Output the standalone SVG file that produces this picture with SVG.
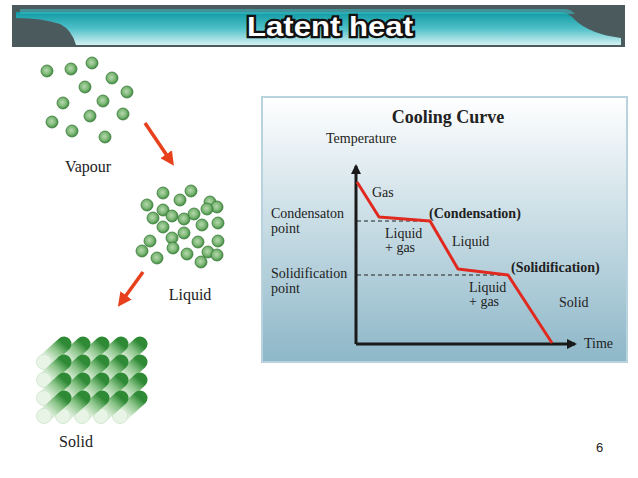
<svg xmlns="http://www.w3.org/2000/svg" width="638" height="478" viewBox="0 0 638 478">
<defs>
<linearGradient id="hdr" x1="0" y1="0" x2="0" y2="1"><stop offset="0" stop-color="#0f9aa3"/><stop offset="0.5" stop-color="#4fc0c8"/><stop offset="1" stop-color="#d4f1f3"/></linearGradient>
<linearGradient id="panel" x1="0" y1="0" x2="0" y2="1"><stop offset="0" stop-color="#ffffff"/><stop offset="1" stop-color="#8db7c8"/></linearGradient>
<radialGradient id="ball" cx="0.45" cy="0.45" r="0.55"><stop offset="0" stop-color="#b5d8ad"/><stop offset="0.6" stop-color="#7fb878"/><stop offset="1" stop-color="#3d8a3e"/></radialGradient>
<linearGradient id="cyl" x1="1" y1="0" x2="0" y2="1"><stop offset="0" stop-color="#2f8a36"/><stop offset="0.35" stop-color="#8cc58a"/><stop offset="0.75" stop-color="#d6ebd4"/><stop offset="1" stop-color="#eaf5e8"/></linearGradient>
<marker id="ra" markerWidth="4" markerHeight="4" refX="2" refY="2" orient="auto" markerUnits="strokeWidth"><path d="M0,0 L4,2 L0,4 z" fill="#e8401c"/></marker>
<marker id="ka" markerWidth="10" markerHeight="10" refX="8" refY="5" orient="auto" markerUnits="userSpaceOnUse"><path d="M0,0 L10,5 L0,10 z" fill="#1a1a1a"/></marker>
</defs>
<style>
.p{fill:url(#ball);stroke:#3d7d3e;stroke-width:0.8}
.t{font-family:"Liberation Serif",serif;fill:#222;font-size:16px}
.c{font-family:"Liberation Serif",serif;fill:#222;font-size:14px}
.b{font-weight:bold}
.cy{stroke:url(#cyl);stroke-width:15;stroke-linecap:round;fill:none}
.cap{fill:#e8f4e6;stroke:#cde4cb;stroke-width:0.8}
</style>
<rect width="638" height="478" fill="#fff"/>
<g id="header">
<rect x="12" y="5" width="613" height="42" fill="#4b5a5d"/>
<path d="M16,12 H560 Q568,12 575,20 Q590,34 621,38 V45 H76 Q72,30 60,24 Q42,18 16,18 Z" fill="url(#hdr)"/>
<path d="M20,9 H566 Q572,10 575,14 L20,14Z" fill="#3cb9c1" opacity="0.6"/>
<text x="330" y="36" text-anchor="middle" font-family="Liberation Sans,Arial,sans-serif" font-weight="bold" font-size="28" textLength="166" lengthAdjust="spacingAndGlyphs" fill="#fff" stroke="#111" stroke-width="4.5" paint-order="stroke">Latent heat</text>
</g>
<g id="vapour">
<circle class="p" cx="47" cy="71" r="6"/><circle class="p" cx="71" cy="69" r="6"/><circle class="p" cx="92" cy="63" r="6"/><circle class="p" cx="112" cy="78" r="6"/><circle class="p" cx="85" cy="87" r="6"/><circle class="p" cx="127" cy="92" r="6"/><circle class="p" cx="63" cy="103" r="6"/><circle class="p" cx="103" cy="101" r="6"/><circle class="p" cx="90" cy="116" r="6"/><circle class="p" cx="123" cy="114" r="6"/><circle class="p" cx="52" cy="122" r="6"/><circle class="p" cx="72" cy="131" r="6"/><circle class="p" cx="105" cy="137" r="6"/>
<text class="t" x="88" y="172" text-anchor="middle">Vapour</text>
</g>
<g id="liquid">
<circle class="p" cx="163" cy="193" r="6"/><circle class="p" cx="191" cy="191" r="6"/><circle class="p" cx="180" cy="200" r="6"/><circle class="p" cx="147" cy="205" r="6"/><circle class="p" cx="210" cy="202" r="6"/><circle class="p" cx="217" cy="207" r="6"/><circle class="p" cx="207" cy="209" r="6"/><circle class="p" cx="163" cy="210" r="6"/><circle class="p" cx="153" cy="218" r="6"/><circle class="p" cx="172" cy="216" r="6"/><circle class="p" cx="184" cy="219" r="6"/><circle class="p" cx="194" cy="214" r="6"/><circle class="p" cx="218" cy="223" r="6"/><circle class="p" cx="202" cy="225" r="6"/><circle class="p" cx="163" cy="227" r="6"/><circle class="p" cx="184" cy="233" r="6"/><circle class="p" cx="150" cy="241" r="6"/><circle class="p" cx="172" cy="238" r="6"/><circle class="p" cx="198" cy="242" r="6"/><circle class="p" cx="218" cy="241" r="6"/><circle class="p" cx="173" cy="248" r="6"/><circle class="p" cx="142" cy="251" r="6"/><circle class="p" cx="157" cy="258" r="6"/><circle class="p" cx="187" cy="254" r="6"/><circle class="p" cx="208" cy="252" r="6"/><circle class="p" cx="217" cy="255" r="6"/><circle class="p" cx="201" cy="262" r="6"/>
<text class="t" x="190" y="300" text-anchor="middle">Liquid</text>
</g>
<g id="solid">
<g id="r0"><path class="cy" d="M120,362 l20,-18"/><circle class="cap" cx="120" cy="362" r="7.5"/><path class="cy" d="M101,362 l20,-18"/><circle class="cap" cx="101" cy="362" r="7.5"/><path class="cy" d="M82,362 l20,-18"/><circle class="cap" cx="82" cy="362" r="7.5"/><path class="cy" d="M63,362 l20,-18"/><circle class="cap" cx="63" cy="362" r="7.5"/><path class="cy" d="M44,362 l20,-18"/><circle class="cap" cx="44" cy="362" r="7.5"/></g>
<g id="r1"><path class="cy" d="M120,380 l20,-18"/><circle class="cap" cx="120" cy="380" r="7.5"/><path class="cy" d="M101,380 l20,-18"/><circle class="cap" cx="101" cy="380" r="7.5"/><path class="cy" d="M82,380 l20,-18"/><circle class="cap" cx="82" cy="380" r="7.5"/><path class="cy" d="M63,380 l20,-18"/><circle class="cap" cx="63" cy="380" r="7.5"/><path class="cy" d="M44,380 l20,-18"/><circle class="cap" cx="44" cy="380" r="7.5"/></g>
<g id="r2"><path class="cy" d="M120,398 l20,-18"/><circle class="cap" cx="120" cy="398" r="7.5"/><path class="cy" d="M101,398 l20,-18"/><circle class="cap" cx="101" cy="398" r="7.5"/><path class="cy" d="M82,398 l20,-18"/><circle class="cap" cx="82" cy="398" r="7.5"/><path class="cy" d="M63,398 l20,-18"/><circle class="cap" cx="63" cy="398" r="7.5"/><path class="cy" d="M44,398 l20,-18"/><circle class="cap" cx="44" cy="398" r="7.5"/></g>
<g id="r3"><path class="cy" d="M120,416 l20,-18"/><circle class="cap" cx="120" cy="416" r="7.5"/><path class="cy" d="M101,416 l20,-18"/><circle class="cap" cx="101" cy="416" r="7.5"/><path class="cy" d="M82,416 l20,-18"/><circle class="cap" cx="82" cy="416" r="7.5"/><path class="cy" d="M63,416 l20,-18"/><circle class="cap" cx="63" cy="416" r="7.5"/><path class="cy" d="M44,416 l20,-18"/><circle class="cap" cx="44" cy="416" r="7.5"/></g>
<text class="t" x="76" y="447" text-anchor="middle">Solid</text>
</g>
<g id="connectors" stroke="#e8401c" stroke-width="3.5" fill="none">
<path d="M145,123 L170,160" marker-end="url(#ra)"/>
<path d="M143,272 L122,301" marker-end="url(#ra)"/>
</g>
<g id="chart">
<rect x="262" y="97" width="365" height="265" fill="url(#panel)" stroke="#b9d3de" stroke-width="2"/>
<text class="c b" x="448" y="123" text-anchor="middle" style="font-size:18px">Cooling Curve</text>
<text class="c" x="326" y="143">Temperature</text>
<g stroke="#1a1a1a" stroke-width="3" fill="none">
<path d="M356,344 V166" marker-end="url(#ka)"/>
<path d="M356,344 H575" marker-end="url(#ka)"/>
</g>
<g stroke="#222" stroke-width="1.2" stroke-dasharray="4,3"><path d="M357,221 H430"/><path d="M357,275 H508"/></g>
<path d="M357,182 L379,217 L430,221 L458,269 L508,275 L552,343" fill="none" stroke="#e02a20" stroke-width="3" stroke-linejoin="round"/>
<text class="c" x="372" y="197">Gas</text>
<text class="c" x="271" y="218">Condensaton</text><text class="c" x="271" y="233">point</text>
<text class="c b" x="429" y="218">(Condensation)</text>
<text class="c" x="385" y="238">Liquid</text><text class="c" x="385" y="252">+ gas</text>
<text class="c" x="452" y="246">Liquid</text>
<text class="c" x="271" y="278">Solidification</text><text class="c" x="271" y="293">point</text>
<text class="c b" x="511" y="272">(Solidification)</text>
<text class="c" x="469" y="292">Liquid</text><text class="c" x="469" y="306">+ gas</text>
<text class="c" x="559" y="307">Solid</text>
<text class="c" x="584" y="348">Time</text>
</g>
<text x="596" y="452" font-family="Liberation Sans,Arial,sans-serif" font-size="13" fill="#222">6</text>
</svg>
